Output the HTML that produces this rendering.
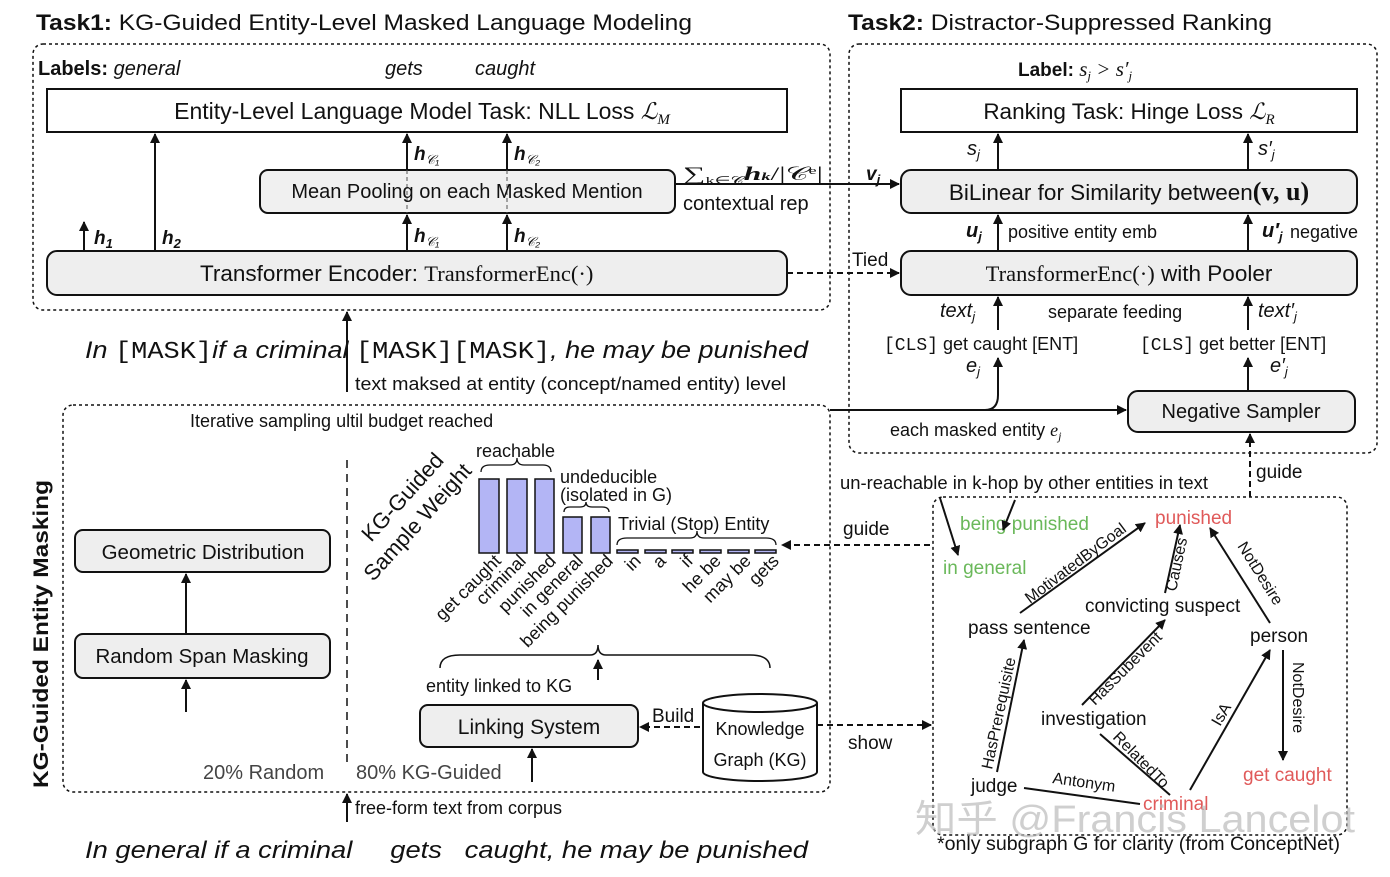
<!DOCTYPE html>
<html><head><meta charset="utf-8"><style>
body{margin:0;background:#fff}
svg text{font-family:"Liberation Sans",sans-serif;fill:#111}
.s{font-family:"Liberation Serif",serif}
</style></head><body>
<svg width="1390" height="872" viewBox="0 0 1390 872" xmlns="http://www.w3.org/2000/svg">
<defs>
<marker id="a" markerWidth="10" markerHeight="10" refX="9" refY="5" orient="auto" markerUnits="userSpaceOnUse"><path d="M0,0 L10,5 L0,10 z" fill="#111"/></marker>
</defs>
<g stroke="#111" fill="none" stroke-width="1.5">
<rect x="33" y="44" width="797" height="266" rx="10" stroke-dasharray="3,3"/>
<rect x="849" y="44" width="528" height="409" rx="10" stroke-dasharray="3,3"/>
<rect x="63" y="405" width="767" height="387" rx="10" stroke-dasharray="3,3"/>
<rect x="933" y="497" width="414" height="338" rx="10" stroke-dasharray="3,3"/>
</g>
<g stroke="#111" stroke-width="2">
<rect x="47" y="89" width="740" height="43" fill="#fff"/>
<rect x="260" y="170" width="415" height="43" rx="8" fill="#f0f0f0"/>
<rect x="47" y="251" width="740" height="44" rx="10" fill="#eee"/>
<rect x="901" y="89" width="456" height="43" fill="#fff"/>
<rect x="901" y="170" width="456" height="43" rx="10" fill="#eee"/>
<rect x="901" y="251" width="456" height="44" rx="10" fill="#eee"/>
<rect x="1128" y="391" width="227" height="41" rx="10" fill="#eee"/>
<rect x="75" y="530" width="255" height="42" rx="8" fill="#eee"/>
<rect x="75" y="634" width="255" height="44" rx="8" fill="#eee"/>
<rect x="420" y="705" width="218" height="42" rx="8" fill="#eee"/>
<path d="M703,703 L703,772 A57,9 0 0 0 817,772 L817,703" fill="#fff"/>
<ellipse cx="760" cy="703" rx="57" ry="9" fill="#fff"/>
</g>
<g stroke="#111" stroke-width="2" fill="none" marker-end="url(#a)">
<line x1="84" y1="251" x2="84" y2="222"/>
<line x1="155" y1="251" x2="155" y2="134"/>
<line x1="407" y1="251" x2="407" y2="215"/>
<line x1="507" y1="251" x2="507" y2="215"/>
<line x1="407" y1="170" x2="407" y2="134"/>
<line x1="507" y1="170" x2="507" y2="134"/>
<line x1="347" y1="392" x2="347" y2="312"/>
<line x1="347" y1="822" x2="347" y2="794"/>
<line x1="186" y1="712" x2="186" y2="680"/>
<line x1="186" y1="634" x2="186" y2="574"/>
<line x1="532" y1="782" x2="532" y2="749"/>
<line x1="598" y1="680" x2="598" y2="660"/>
<line x1="998" y1="170" x2="998" y2="134"/>
<line x1="1248" y1="170" x2="1248" y2="134"/>
<line x1="998" y1="251" x2="998" y2="215"/>
<line x1="1248" y1="251" x2="1248" y2="215"/>
<line x1="998" y1="330" x2="998" y2="297"/>
<line x1="1248" y1="330" x2="1248" y2="297"/>
<line x1="1248" y1="391" x2="1248" y2="358"/>
<line x1="675" y1="184" x2="899" y2="184"/>
<path d="M830,410 L985,410 Q998,410 998,395 L998,358"/>
<line x1="985" y1="410" x2="1126" y2="410"/>
</g>
<g stroke="#111" stroke-width="2" fill="none" stroke-dasharray="6,4" marker-end="url(#a)">
<line x1="787" y1="273" x2="899" y2="273"/>
<line x1="930" y1="545" x2="782" y2="545"/>
<line x1="1250" y1="497" x2="1250" y2="434"/>
<line x1="817" y1="725" x2="931" y2="725"/>
<line x1="700" y1="727" x2="640" y2="727"/>
</g>
<line x1="407" y1="170" x2="407" y2="213" stroke="#555" stroke-dasharray="4,3"/>
<line x1="507" y1="170" x2="507" y2="213" stroke="#555" stroke-dasharray="4,3"/>
<line x1="347" y1="460" x2="347" y2="762" stroke="#111" stroke-width="1.5" stroke-dasharray="8,6"/>
<text x="36" y="30" font-size="22" textLength="656" lengthAdjust="spacingAndGlyphs"><tspan font-weight="bold">Task1:</tspan> KG-Guided Entity-Level Masked Language Modeling</text>
<text x="848" y="30" font-size="22" textLength="424" lengthAdjust="spacingAndGlyphs"><tspan font-weight="bold">Task2:</tspan> Distractor-Suppressed Ranking</text>
<text x="38" y="75" font-size="20"><tspan font-weight="bold">Labels:</tspan> <tspan font-style="italic">general</tspan></text>
<text x="385" y="75" font-size="20" font-style="italic">gets</text>
<text x="475" y="75" font-size="20" font-style="italic">caught</text>
<text x="422" y="119" font-size="23" text-anchor="middle">Entity-Level Language Model Task: NLL Loss <tspan class="s" font-style="italic">ℒ<tspan font-size="15" dy="5">M</tspan></tspan></text>
<text x="467" y="198" font-size="20" text-anchor="middle">Mean Pooling on each Masked Mention</text>
<text x="200" y="281" font-size="22.5">Transformer Encoder: <tspan class="s">TransformerEnc(·)</tspan></text>
<g class="s" font-weight="bold" font-style="italic" font-size="19">
<text x="94" y="244">h<tspan font-size="13" dy="4">1</tspan></text>
<text x="162" y="244">h<tspan font-size="13" dy="4">2</tspan></text>
<text x="414" y="160">h<tspan font-size="13" dy="4" font-weight="normal">𝒞₁</tspan></text>
<text x="514" y="160">h<tspan font-size="13" dy="4" font-weight="normal">𝒞₂</tspan></text>
<text x="414" y="242">h<tspan font-size="13" dy="4" font-weight="normal">𝒞₁</tspan></text>
<text x="514" y="242">h<tspan font-size="13" dy="4" font-weight="normal">𝒞₂</tspan></text>
<text x="866" y="180">v<tspan font-size="13" dy="4">j</tspan></text>
</g>
<text x="683" y="180" font-size="19" class="s" textLength="140" lengthAdjust="spacingAndGlyphs">∑<tspan font-size="11" dy="4">k∈𝒞</tspan><tspan dy="-4" font-style="italic" font-weight="bold">h<tspan font-size="11">k</tspan></tspan>/|𝒞<tspan font-size="11" dy="-6">e</tspan><tspan dy="6">|</tspan></text>
<text x="683" y="210" font-size="20">contextual rep</text>
<text x="852" y="266" font-size="19">Tied</text>
<text x="1018" y="76" font-size="19"><tspan font-weight="bold">Label:</tspan> <tspan class="s" font-style="italic" font-size="21">s<tspan font-size="13" dy="4">j</tspan><tspan dy="-4"> &gt; s′</tspan><tspan font-size="13" dy="4">j</tspan></tspan></text>
<text x="1129" y="119" font-size="22.5" text-anchor="middle">Ranking Task: Hinge Loss <tspan class="s" font-style="italic">ℒ<tspan font-size="15" dy="5">R</tspan></tspan></text>
<text x="1129" y="200" font-size="22.5" text-anchor="middle">BiLinear for Similarity between<tspan class="s" font-weight="bold" font-size="26">(v, u)</tspan></text>
<text x="1129" y="281" font-size="22.5" text-anchor="middle"><tspan class="s">TransformerEnc(·)</tspan> with Pooler</text>
<g class="s" font-style="italic" font-size="20">
<text x="967" y="155">s<tspan font-size="13" dy="4">j</tspan></text>
<text x="1258" y="155">s′<tspan font-size="13" dy="4">j</tspan></text>
<text x="940" y="317">text<tspan font-size="13" dy="4">j</tspan></text>
<text x="1258" y="317">text′<tspan font-size="13" dy="4">j</tspan></text>
<text x="966" y="372">e<tspan font-size="13" dy="4">j</tspan></text>
<text x="1270" y="372">e′<tspan font-size="13" dy="4">j</tspan></text>
<text x="966" y="237" font-weight="bold">u<tspan font-size="13" dy="4">j</tspan></text>
<text x="1262" y="237" font-weight="bold">u′<tspan font-size="13" dy="4">j</tspan></text>
</g>
<text x="1008" y="238" font-size="18">positive entity emb</text>
<text x="1290" y="238" font-size="18">negative</text>
<text x="1048" y="318" font-size="18">separate feeding</text>
<text x="884" y="350" font-size="18"><tspan font-family="Liberation Mono">[CLS]</tspan> get caught [ENT]</text>
<text x="1140" y="350" font-size="18"><tspan font-family="Liberation Mono">[CLS]</tspan> get better [ENT]</text>
<text x="1241" y="418" font-size="20" text-anchor="middle">Negative Sampler</text>
<text x="890" y="436" font-size="18">each masked entity <tspan class="s" font-style="italic">e<tspan font-size="12" dy="4">j</tspan></tspan></text>
<text x="85" y="358" font-size="24" font-style="italic" textLength="723" lengthAdjust="spacingAndGlyphs">In <tspan font-family="Liberation Mono" font-style="normal">[MASK]</tspan>if a criminal <tspan font-family="Liberation Mono" font-style="normal">[MASK][MASK]</tspan>, he may be punished</text>
<text x="355" y="390" font-size="18" textLength="431" lengthAdjust="spacingAndGlyphs">text maksed at entity (concept/named entity) level</text>
<text x="190" y="427" font-size="18">Iterative sampling ultil budget reached</text>
<text x="203" y="559" font-size="20.5" text-anchor="middle">Geometric Distribution</text>
<text x="202" y="663" font-size="20.5" text-anchor="middle">Random Span Masking</text>
<text x="203" y="779" font-size="20" style="fill:#444">20% Random</text>
<text x="356" y="779" font-size="20" style="fill:#444">80% KG-Guided</text>
<text x="529" y="734" font-size="21" text-anchor="middle">Linking System</text>
<text x="652" y="722" font-size="19">Build</text>
<text x="760" y="735" font-size="18" text-anchor="middle">Knowledge</text>
<text x="760" y="766" font-size="18" text-anchor="middle">Graph (KG)</text>
<text x="848" y="749" font-size="19">show</text>
<text x="426" y="692" font-size="18">entity linked to KG</text>
<path d="M440,668 Q440,655 460,655 L590,655 Q598,655 598,645 Q598,655 606,655 L750,655 Q770,655 770,668" stroke="#111" stroke-width="1.5" fill="none"/>
<text x="355" y="814" font-size="18">free-form text from corpus</text>
<text x="85" y="858" font-size="24" font-style="italic" textLength="723" lengthAdjust="spacingAndGlyphs">In general if a criminal &#160;&#160;&#160;&#160;gets &#160;&#160;caught, he may be punished</text>
<text transform="translate(48,788) rotate(-90)" font-size="21" font-weight="bold" textLength="308" lengthAdjust="spacingAndGlyphs">KG-Guided Entity Masking</text>
<text transform="translate(408,502) rotate(-48)" font-size="22" text-anchor="middle">KG-Guided</text>
<text transform="translate(423,527) rotate(-48)" font-size="22" text-anchor="middle">Sample Weight</text>
<g fill="#b3b5f5" stroke="#111" stroke-width="1.5">
<rect x="479" y="479" width="20" height="74"/><rect x="507" y="479" width="20" height="74"/><rect x="535" y="479" width="19" height="74"/>
<rect x="563" y="517" width="19" height="36"/><rect x="591" y="517" width="19" height="36"/>
<rect x="617" y="550" width="21" height="3"/><rect x="645" y="550" width="21" height="3"/><rect x="672" y="550" width="21" height="3"/><rect x="700" y="550" width="21" height="3"/><rect x="728" y="550" width="21" height="3"/><rect x="755" y="550" width="21" height="3"/>
</g>
<g stroke="#111" stroke-width="1.3" fill="none">
<path d="M481,472 Q481,465 490,465 L510,465 Q517,465 517,458 Q517,465 524,465 L543,465 Q551,465 551,472"/>
<path d="M564,512 Q564,507 570,507 L580,507 Q586,507 586,502 Q586,507 592,507 L602,507 Q609,507 609,512"/>
<path d="M617,545 Q617,538 627,538 L690,538 Q697,538 697,531 Q697,538 704,538 L766,538 Q776,538 776,545"/>
</g>
<text x="476" y="457" font-size="18">reachable</text>
<text x="560" y="483" font-size="18">undeducible</text>
<text x="560" y="501" font-size="18">(isolated in G)</text>
<text x="618" y="530" font-size="18">Trivial (Stop) Entity</text>
<g font-size="18">
<text transform="translate(502,562) rotate(-45)" text-anchor="end">get caught</text>
<text transform="translate(527,562) rotate(-45)" text-anchor="end">criminal</text>
<text transform="translate(557,562) rotate(-45)" text-anchor="end">punished</text>
<text transform="translate(584,562) rotate(-45)" text-anchor="end">in general</text>
<text transform="translate(614,562) rotate(-45)" text-anchor="end">being punished</text>
<text transform="translate(642,562) rotate(-45)" text-anchor="end">in</text>
<text transform="translate(667,562) rotate(-45)" text-anchor="end">a</text>
<text transform="translate(694,562) rotate(-45)" text-anchor="end">if</text>
<text transform="translate(722,562) rotate(-45)" text-anchor="end">he be</text>
<text transform="translate(752,562) rotate(-45)" text-anchor="end">may be</text>
<text transform="translate(780,562) rotate(-45)" text-anchor="end">gets</text>
</g>
<text x="843" y="535" font-size="19">guide</text>
<text x="1256" y="478" font-size="19">guide</text>
<text x="840" y="489" font-size="18" textLength="368" lengthAdjust="spacingAndGlyphs">un-reachable in k-hop by other entities in text</text>
<g font-size="19">
<text x="960" y="530" style="fill:#6ab85a">being punished</text>
<text x="943" y="574" style="fill:#6ab85a">in general</text>
<text x="1155" y="524" style="fill:#e05a5a">punished</text>
<text x="1085" y="612">convicting suspect</text>
<text x="968" y="634">pass sentence</text>
<text x="1250" y="642">person</text>
<text x="1041" y="725">investigation</text>
<text x="1243" y="781" style="fill:#e05a5a">get caught</text>
<text x="971" y="792">judge</text>
<text x="1143" y="810" style="fill:#e05a5a">criminal</text>
</g>
<g stroke="#111" stroke-width="2" fill="none" marker-end="url(#a)">
<line x1="1015" y1="500" x2="1003" y2="530"/>
<line x1="940" y1="498" x2="958" y2="555"/>
<line x1="1020" y1="613" x2="1145" y2="523"/>
<line x1="1165" y1="593" x2="1180" y2="525"/>
<line x1="1270" y1="623" x2="1210" y2="528"/>
<line x1="1082" y1="705" x2="1165" y2="620"/>
<line x1="997" y1="772" x2="1024" y2="640"/>
<line x1="1190" y1="790" x2="1270" y2="650"/>
<line x1="1283" y1="650" x2="1283" y2="760"/>
</g>
<g stroke="#111" stroke-width="2">
<line x1="1100" y1="734" x2="1170" y2="795"/>
<line x1="1024" y1="788" x2="1140" y2="804"/>
</g>
<g font-size="16">
<text transform="translate(1030,604) rotate(-37)">MotivatedByGoal</text>
<text transform="translate(1176,592) rotate(-78)">Causes</text>
<text transform="translate(1237,546) rotate(58)">NotDesire</text>
<text transform="translate(1095,706) rotate(-45)">HasSubevent</text>
<text transform="translate(992,770) rotate(-78)">HasPrerequisite</text>
<text transform="translate(1112,738) rotate(45)">RelatedTo</text>
<text transform="translate(1220,727) rotate(-60)">IsA</text>
<text transform="translate(1293,662) rotate(90)">NotDesire</text>
<text transform="translate(1052,783) rotate(8)">Antonym</text>
</g>
<text x="915" y="832" font-size="38" style="fill:#bbb;opacity:0.7" textLength="440" lengthAdjust="spacingAndGlyphs">知乎 @Francis Lancelot</text>
<text x="937" y="850" font-size="19" textLength="403" lengthAdjust="spacingAndGlyphs">*only subgraph G for clarity (from ConceptNet)</text>
</svg>
</body></html>
